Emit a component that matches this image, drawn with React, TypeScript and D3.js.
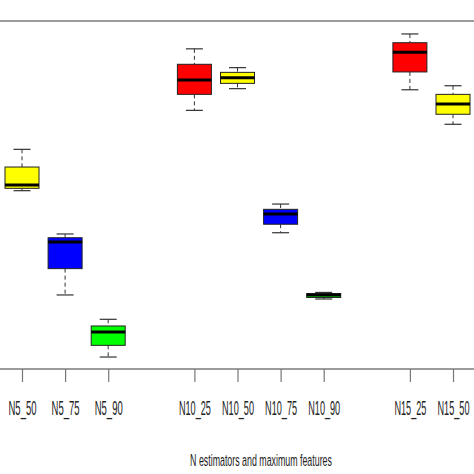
import React, { useEffect, useRef } from "react";
import * as d3 from "d3";

// box plot stats (no y axis is visible, scale is arbitrary)
const categories = ["N5_50", "N5_75", "N5_90", "N10_25", "N10_50", "N10_75", "N10_90", "N15_25", "N15_50"];
const positions = [1, 2, 3, 5, 6, 7, 8, 10, 11];
const whiskerHigh = [0.8578, 0.797, 0.7357, 0.930, 0.9165, 0.8185, 0.7550, 0.9407, 0.9035];
const q3 = [0.8451, 0.7943, 0.7309, 0.9189, 0.9131, 0.8147, 0.7542, 0.9344, 0.8973];
const medians = [0.8322, 0.7912, 0.7266, 0.9076, 0.9093, 0.8113, 0.7532, 0.9275, 0.8904];
const q1 = [0.8298, 0.7721, 0.7170, 0.8973, 0.9052, 0.8040, 0.7514, 0.9134, 0.8830];
const whiskerLow = [0.8281, 0.7532, 0.7086, 0.8858, 0.9014, 0.7979, 0.7503, 0.9006, 0.8758];
const fills = ["#ffff00", "#0000ff", "#00ff00", "#ff0000", "#ffff00", "#0000ff", "#00ff00", "#ff0000", "#ffff00"];

const xTitle = "N estimators and maximum features";

const FONT = "'Liberation Sans Narrow', 'Liberation Sans', Arial, sans-serif";

// squeeze a text horizontally (the source figure was resized non-uniformly)
const squeeze = (node, target) => {
    const w = node.getComputedTextLength();
    if (w > 0) {
        const sx = target / w;
        const x = +node.getAttribute("x") || 0;
        node.setAttribute("transform", `translate(${x * (1 - sx)},0) scale(${sx},1)`);
    }
};

const BoxPlot = props => {
    const ref = useRef(null);

    useEffect(() => {
        const group = d3.select(ref.current);
        group.selectAll("*").remove();

        const data = categories.map((c, i) => ({
            name: c,
            pos: positions[i],
            hi: whiskerHigh[i],
            q3: q3[i],
            med: medians[i],
            q1: q1[i],
            lo: whiskerLow[i],
            fill: fills[i]
        }));

        const plotTop = 21;
        const plotBottom = 369;

        const xScale = d3.scaleLinear()
            .domain([1, 11])
            .range([22, 453]);

        const yScale = d3.scaleLinear()
            .domain([0.70, 0.95])
            .range([plotBottom, plotTop]);

        const boxW = 34;
        const capW = 17;

        // frame (only top and bottom survive the crop)
        group.append("line")
            .attr("x1", 0).attr("x2", props.width)
            .attr("y1", plotTop).attr("y2", plotTop)
            .attr("stroke", "#7a7a7a").attr("stroke-width", 1.5);
        group.append("line")
            .attr("x1", 0).attr("x2", props.width)
            .attr("y1", plotBottom).attr("y2", plotBottom)
            .attr("stroke", "#7a7a7a").attr("stroke-width", 1.5);

        const xAxis = d3.axisBottom(xScale)
            .tickValues(positions)
            .tickFormat((d, i) => categories[i])
            .tickSize(13)
            .tickPadding(19);

        const xAxisG = group.append("g")
            .attr("transform", `translate(0, ${plotBottom})`)
            .call(xAxis);

        xAxisG.select(".domain").remove();
        xAxisG.selectAll("line")
            .attr("stroke", "#777")
            .attr("stroke-width", 1.2);
        xAxisG.selectAll("text")
            .attr("fill", "#222")
            .attr("font-size", 20)
            .attr("font-family", FONT)
            .each(function (d) {
                const label = categories[positions.indexOf(d)];
                squeeze(this, label.length > 5 ? 32 : 28);
            });

        const boxes = group.selectAll("g.box")
            .data(data)
            .enter().append("g")
                .attr("class", "box");

        // dashed whiskers
        boxes.append("line")
            .attr("x1", d => xScale(d.pos)).attr("x2", d => xScale(d.pos))
            .attr("y1", d => yScale(d.hi)).attr("y2", d => yScale(d.q3))
            .attr("stroke", "#333").attr("stroke-dasharray", "4,3");
        boxes.append("line")
            .attr("x1", d => xScale(d.pos)).attr("x2", d => xScale(d.pos))
            .attr("y1", d => yScale(d.q1)).attr("y2", d => yScale(d.lo))
            .attr("stroke", "#333").attr("stroke-dasharray", "4,3");

        // caps
        boxes.append("line")
            .attr("x1", d => xScale(d.pos) - capW / 2).attr("x2", d => xScale(d.pos) + capW / 2)
            .attr("y1", d => yScale(d.hi)).attr("y2", d => yScale(d.hi))
            .attr("stroke", "#333").attr("stroke-width", 1.2);
        boxes.append("line")
            .attr("x1", d => xScale(d.pos) - capW / 2).attr("x2", d => xScale(d.pos) + capW / 2)
            .attr("y1", d => yScale(d.lo)).attr("y2", d => yScale(d.lo))
            .attr("stroke", "#333").attr("stroke-width", 1.2);

        boxes.append("rect")
            .attr("x", d => xScale(d.pos) - boxW / 2)
            .attr("y", d => yScale(d.q3))
            .attr("width", boxW)
            .attr("height", d => Math.max(1, yScale(d.q1) - yScale(d.q3)))
            .attr("fill", d => d.fill)
            .attr("stroke", "#222")
            .attr("stroke-width", 1);

        boxes.append("line")
            .attr("x1", d => xScale(d.pos) - boxW / 2).attr("x2", d => xScale(d.pos) + boxW / 2)
            .attr("y1", d => yScale(d.med)).attr("y2", d => yScale(d.med))
            .attr("stroke", "#000").attr("stroke-width", 3);

        group.append("text")
            .attr("x", 261)
            .attr("y", 466)
            .attr("text-anchor", "middle")
            .attr("fill", "#222")
            .attr("font-size", 17)
            .attr("font-family", FONT)
            .text(xTitle)
            .each(function () { squeeze(this, 142); });
    }, [props.width]);

    return (
        <svg width={props.width} height={props.height}
            style={{ position: "absolute", left: 0, top: 0, background: "#fff" }}>
            <g ref={ref} />
        </svg>
    );
};

export default function App() {
    return <BoxPlot width={474} height={474} />;
}
